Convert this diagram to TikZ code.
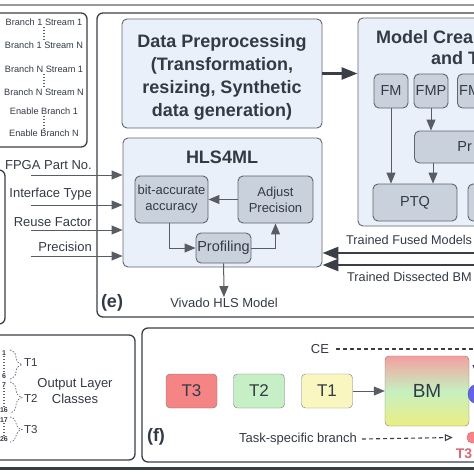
\documentclass[tikz,border=0pt]{standalone}
\usepackage{fontspec}
\setmainfont{Liberation Sans}
\usepackage{tikz}
\usetikzlibrary{arrows.meta, positioning, decorations.pathreplacing}
\definecolor{linecolor}{RGB}{58, 63, 71}
\definecolor{textcolor}{RGB}{51, 58, 69}
\definecolor{panelcolor}{RGB}{233, 240, 250}
\definecolor{blockcolor}{RGB}{201, 209, 220}
\definecolor{taskred}{RGB}{245, 132, 132}
\definecolor{taskgreen}{RGB}{198, 239, 198}
\definecolor{taskyellow}{RGB}{250, 246, 192}
\definecolor{bmred}{RGB}{244, 160, 160}
\definecolor{bmgreen}{RGB}{198, 240, 192}
\definecolor{bmyellow}{RGB}{236, 238, 130}
\definecolor{headblue}{RGB}{100, 100, 230}
\definecolor{branchred}{RGB}{214, 104, 116}
\tikzstyle{frame} = [rectangle, rounded corners=6pt, draw=linecolor, line width=1.3pt]
\tikzstyle{panel} = [rectangle, rounded corners=5pt, draw=linecolor!80, fill=panelcolor, line width=0.9pt]
\tikzstyle{block} = [rectangle, rounded corners=5pt, draw=linecolor!80, fill=blockcolor, line width=0.9pt, align=center, text=textcolor, inner sep=1pt, font=\fontsize{14.5}{17}\selectfont]
\tikzstyle{task} = [rectangle, rounded corners=4pt, draw=linecolor!70, minimum width=51pt, minimum height=34pt, text=textcolor, font=\fontsize{17}{19}\selectfont]
\tikzstyle{headline} = [text=textcolor, inner sep=0pt, font=\bfseries\fontsize{18}{22}\selectfont]
\tikzstyle{txt} = [text=textcolor, inner sep=1pt, font=\fontsize{13}{16}\selectfont]
\tikzstyle{brtext} = [text=textcolor, inner sep=1pt, font=\fontsize{9.2}{11}\selectfont]
\tikzstyle{idx} = [text=textcolor, inner sep=0.5pt, font=\bfseries\fontsize{7}{8}\selectfont]
\tikzstyle{arrow} = [draw=linecolor!85, line width=1pt, -{Triangle[length=11pt,width=9pt]}]
\tikzstyle{bigarrow} = [draw=linecolor, line width=2.6pt, -{Triangle[length=16pt,width=12pt]}]
\tikzstyle{dashfill} = [draw=linecolor, line width=1.1pt, dash pattern=on 4pt off 3pt, -{Triangle[length=8pt,width=7pt]}]
\tikzstyle{dasharrow} = [draw=linecolor, line width=1.1pt, dash pattern=on 4pt off 3pt, -{Triangle[open,length=8pt,width=7pt]}]
\tikzstyle{dotline} = [draw=linecolor!80, line width=1.1pt, dash pattern=on 1pt off 2pt]
\tikzstyle{bracestyle} = [draw=linecolor!80, line width=0.7pt, dash pattern=on 1.5pt off 1.5pt, decorate, decoration={brace, amplitude=12pt}]

\begin{document}
\begin{tikzpicture}[x=1pt, y=-1pt]
\useasboundingbox (0,0) rectangle (474,474);
\clip (0,0) rectangle (474,474);

% Frame lines
\draw [line width=2pt, draw=gray!80] (-5,5) -- (480,5);
\draw [line width=3pt, draw=linecolor] (-5,468) -- (480,468);

% Branch inputs
\node (brbox) [frame, minimum width=147pt, minimum height=134pt] at (13.5,80) {};
\node (b11) [brtext] at (44,22.5) {Branch 1 Stream 1};
\node (b1n) [brtext] at (44,45) {Branch 1 Stream N};
\node (bn1) [brtext] at (44,69.5) {Branch N Stream 1};
\node (bnn) [brtext] at (44,92) {Branch N Stream N};
\node (en1) [brtext] at (44,111) {Enable Branch 1};
\node (enn) [brtext] at (44,133) {Enable Branch N};
\draw [dotline] (b11.south) -- (b1n.north);
\draw [dotline] (bn1.south) -- (bnn.north);
\draw [dotline] (en1.south) -- (enn.north);

\node (parbox) [frame, minimum width=80pt, minimum height=154pt] at (-35,247) {};

% (e) panel
\node (ebox) [frame, minimum width=430pt, minimum height=304pt] at (312,165) {};
\node (elbl) [headline] at (112,303) {(e)};

\node (prep) [panel, minimum width=200pt, minimum height=109pt, align=center, text=textcolor, font=\bfseries\fontsize{18}{23}\selectfont] at (222,73.5) {\rule{0pt}{21pt}Data Preprocessing\\(Transformation,\\resizing, Synthetic\\data generation)};

\node (model) [panel, minimum width=200pt, minimum height=208pt] at (458,122) {};
\node (mtitle) [headline, anchor=west] at (376,37) {Model Crea};
\node (mtitle2) [headline, anchor=west] at (431,58.5) {and T};
\node (fm) [block, minimum width=34pt, minimum height=34pt] at (391,91) {FM};
\node (fmp) [block, minimum width=34pt, minimum height=34pt] at (431,91) {FMP};
\node (fmd) [block, minimum width=34pt, minimum height=34pt, anchor=west] at (457,91) {FM\phantom{P}};
\node (prune) [block, minimum width=138pt, minimum height=32pt, anchor=west] at (414,147) {\hspace{42pt}Pr\hspace{80pt}};
\node (ptq) [block, minimum width=84pt, minimum height=37pt] at (415,202.5) {PTQ};
\node (qat) [block, minimum width=84pt, minimum height=37pt] at (510,202.5) {};

\draw [arrow] (fmp.south) -- (prune.north -| fmp.south);
\draw [arrow] (fm.south) -- (ptq.north -| fm.south);
\draw [arrow] ([xshift=2pt]prune.south -| fmp.south) -- ([xshift=2pt]ptq.north -| fmp.south);
\draw [bigarrow] (prep.east) -- (prep.east -| model.west);

% HLS4ML
\node (hls) [panel, minimum width=199pt, minimum height=129pt] at (222.5,202.5) {};
\node (hlstitle) [headline] at (222,157) {HLS4ML};
\node (bitacc) [block, minimum width=73pt, minimum height=47pt, font=\fontsize{13}{16}\selectfont] at (171.5,199.5) {bit-accurate\\accuracy};
\node (adjust) [block, minimum width=75pt, minimum height=47pt, font=\fontsize{13}{16}\selectfont] at (275.5,199.5) {Adjust\\Precision};
\node (prof) [block, minimum width=55pt, minimum height=30pt] at (223.5,248) {Profiling};
\node (vivado) [txt] at (224,303) {Vivado HLS Model};

\draw [arrow] (adjust) -- (bitacc);
\draw [arrow] ([xshift=-2pt]bitacc.south) |- (prof.west);
\draw [arrow] (prof.east) -| (adjust.south);
\draw [arrow] (prof) -- (vivado);

% Inputs
\node (fpga) [txt, anchor=east] at (93,165) {FPGA Part No.};
\node (iface) [txt, anchor=east] at (93,194) {Interface Type};
\node (reuse) [txt, anchor=east] at (93,222) {Reuse Factor};
\node (prec) [txt, anchor=east] at (93,247) {Precision};
\coordinate (fpgain) at (31,175);
\coordinate (ifacein) at (31,205);
\coordinate (reusein) at (31,230);
\coordinate (precin) at (31,256);
\draw [arrow] (fpgain) -- (fpgain -| hls.west);
\draw [arrow] (ifacein) -- (ifacein -| hls.west);
\draw [arrow] (reusein) -- (reusein -| hls.west);
\draw [arrow] (precin) -- (precin -| hls.west);

% Trained models back
\coordinate (fusedin) at (480,253);
\coordinate (dissin) at (480,265);
\draw [bigarrow] (fusedin) -- (fusedin -| hls.east);
\draw [bigarrow] (dissin) -- (dissin -| hls.east);
\node (fused) [txt, anchor=west, font=\fontsize{12.7}{15}\selectfont] at (345,240) {Trained Fused Models};
\node (dissected) [txt, anchor=west, font=\fontsize{12.7}{15}\selectfont] at (346,277) {Trained Dissected BM};

% Output layer classes
\node (outbox) [frame, minimum width=200pt, minimum height=125pt] at (35,397.5) {};
\node (c1) [idx] at (4,353) {1};
\node (c6) [idx] at (4,376) {6};
\node (c7) [idx] at (4,385) {7};
\node (c16) [idx] at (4,410) {16};
\node (c17) [idx] at (4,420) {17};
\node (c26) [idx] at (4,439) {26};
\draw [dotline] (c1.south) -- (c6.north);
\draw [dotline] (c7.south) -- (c16.north);
\draw [dotline] (c17.south) -- (c26.north);
\draw [bracestyle] (10,0 |- c1.north) -- (10,0 |- c6.south);
\draw [bracestyle] (10,0 |- c7.north) -- (10,0 |- c16.south);
\draw [bracestyle] (10,0 |- c17.north) -- (10,0 |- c26.south);
\node (t1lbl) [txt, anchor=west, font=\fontsize{11.5}{13}\selectfont] at (23,363) {T1};
\node (t2lbl) [txt, anchor=west, font=\fontsize{11.5}{13}\selectfont] at (23,398) {T2};
\node (t3lbl) [txt, anchor=west, font=\fontsize{11.5}{13}\selectfont] at (23,430) {T3};
\node (outlbl) [txt, align=center] at (75,391) {Output Layer\\Classes};

% (f) panel
\node (fbox) [frame, minimum width=420pt, minimum height=134pt] at (352,395) {};
\node (flbl) [headline] at (156,437) {(f)};
\node (t3) [task, fill=taskred] at (191.5,391) {T3};
\node (t2) [task, fill=taskgreen] at (259,391) {T2};
\node (t1) [task, fill=taskyellow] at (327,391) {T1};
\node (bm) [rectangle, rounded corners=4pt, draw=linecolor!70, minimum width=84pt, minimum height=70pt, top color=bmred, bottom color=bmyellow, middle color=bmgreen, text=textcolor, font=\fontsize{19}{21}\selectfont] at (427,391) {BM};
\node (head) [circle, draw=headblue!70!black, fill=headblue, minimum size=20pt] at (478,394) {};
\draw [arrow] (t1) -- (bm);

\node (ce) [txt] at (320,349) {CE};
\coordinate (cetip) at (476,373);
\draw [dashfill] ([xshift=6pt]ce.east) -| (cetip);

\node (tsb) [txt] at (298,439) {Task-specific branch};
\node (t3br) [rectangle, rounded corners=5pt, fill=taskred, draw=branchred, minimum width=26pt, minimum height=11pt] at (480,437.5) {};
\node (t3tag) [text=branchred, font=\bfseries\fontsize{14}{16}\selectfont] at (464,454) {T3};
\draw [dasharrow] ([xshift=4pt]tsb.east) -- ([xshift=-14pt]t3br.west);

\end{tikzpicture}
\end{document}
